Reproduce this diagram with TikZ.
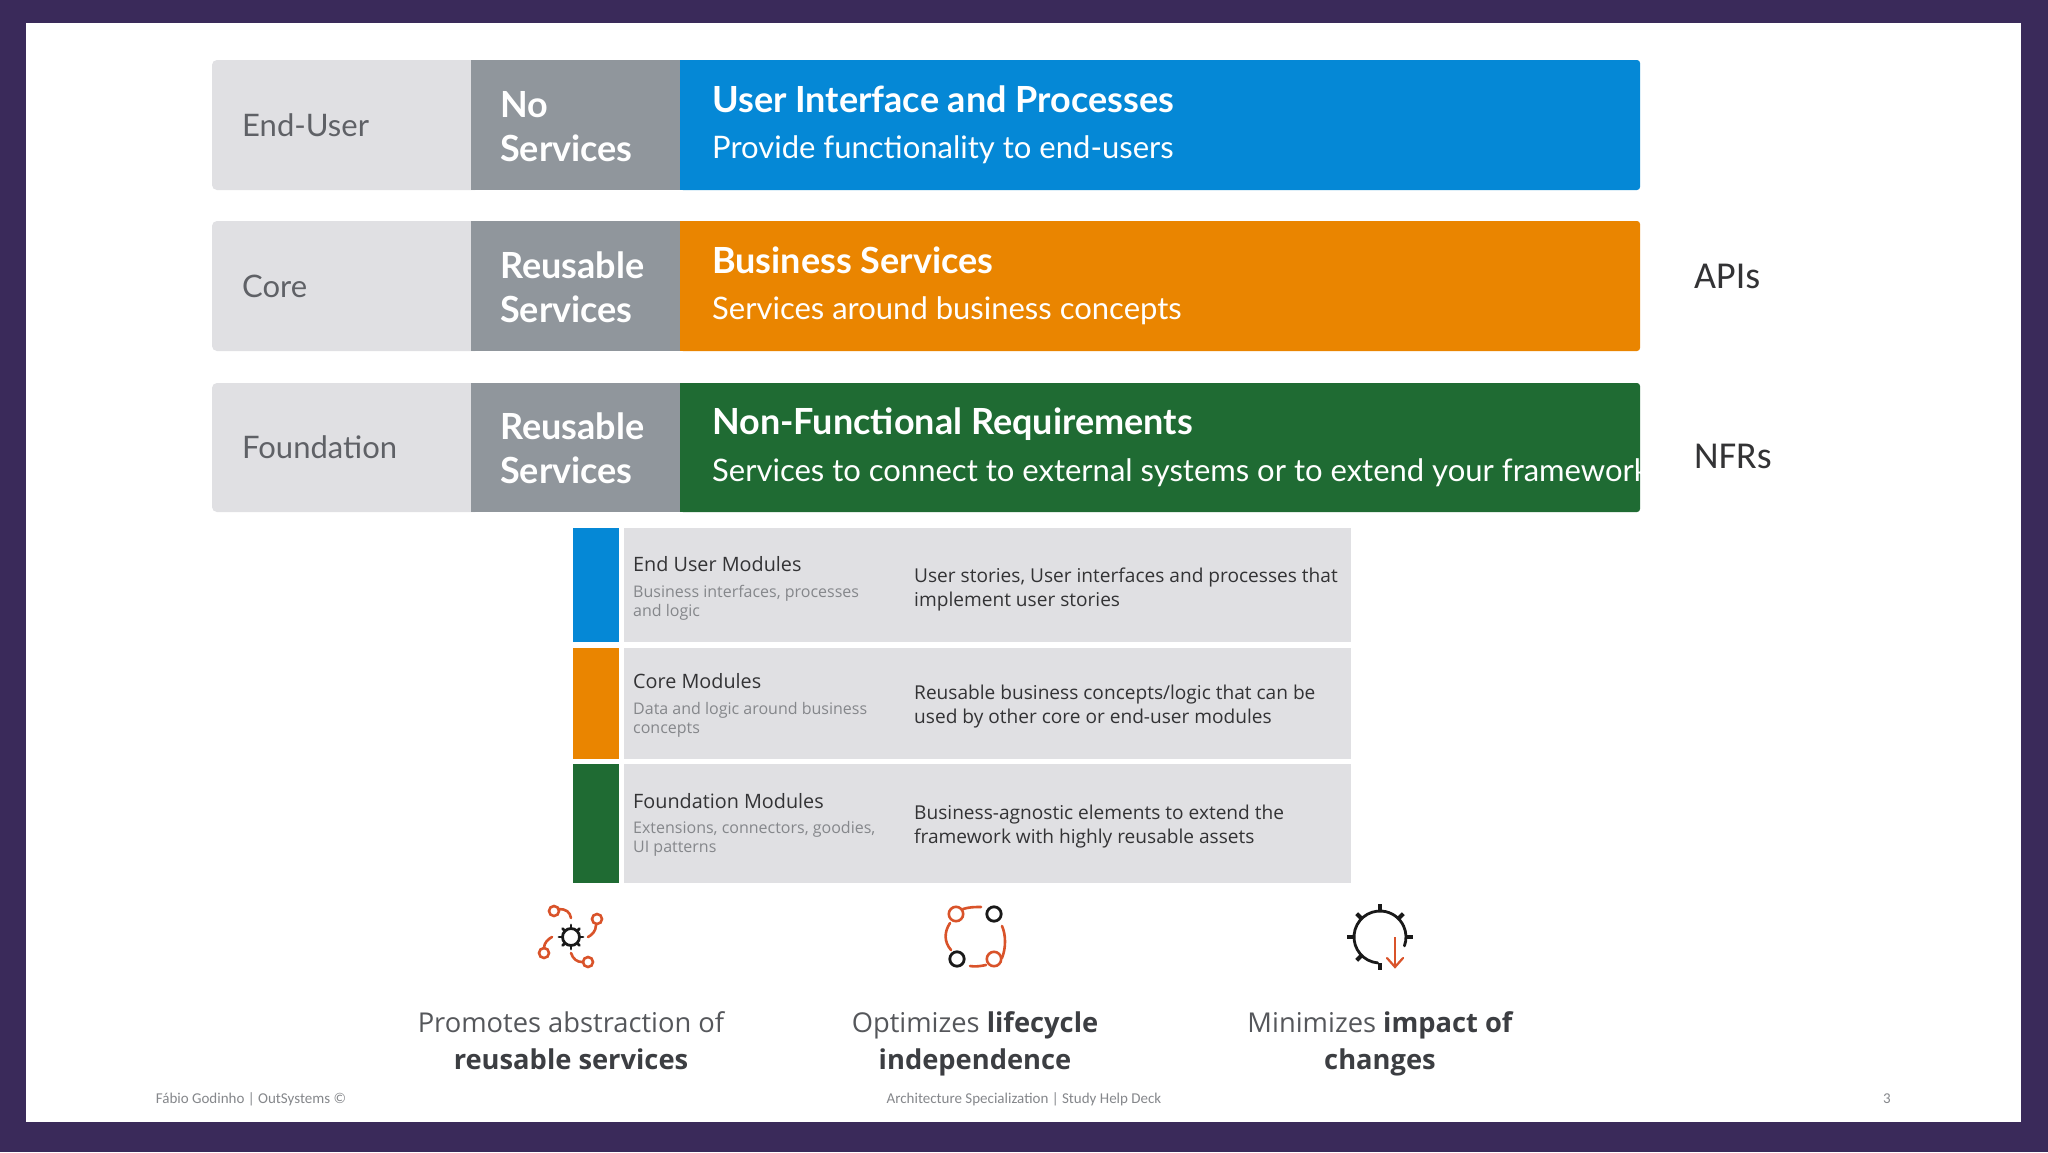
\documentclass[tikz,border=0pt]{standalone}
\usepackage{fontspec}
\setmainfont{Open Sans}
\newfontfamily\lat{Lato}
\newfontfamily\carl{Carlito}
\newcommand{\myfs}[1]{\fontsize{#1}{#1}\selectfont}
\definecolor{frameC}{HTML}{3A2A5A}
\definecolor{lab}{HTML}{E0E0E3}
\definecolor{mid}{HTML}{90969C}
\definecolor{blueC}{HTML}{0588D6}
\definecolor{orC}{HTML}{EA8500}
\definecolor{grC}{HTML}{1F6B33}
\definecolor{txG}{HTML}{5F6166}
\definecolor{txD}{HTML}{333335}
\definecolor{txL}{HTML}{85878B}
\definecolor{txH}{HTML}{55575B}
\definecolor{txB}{HTML}{3C3E42}
\definecolor{redC}{HTML}{D9532A}
\tikzset{x=1pt,y=-1pt,
 txt/.style={inner sep=0pt,anchor=base west},
 rowlab/.style={txt,txG,font=\lat\myfs{31}},
 midt/.style={txt,white,font=\lat\myfs{36}\bfseries},
 headt/.style={txt,white,font=\lat\myfs{36}\bfseries},
 subt/.style={txt,white,font=\lat\myfs{31}},
 mhead/.style={txt,txD,font=\myfs{19.8}},
 msub/.style={txt,txL,font=\myfs{16}},
 mdesc/.style={txt,txD,font=\myfs{19.1}},
 capt/.style={inner sep=0pt,anchor=base,txH,font=\myfs{27.3}},
 capb/.style={inner sep=0pt,anchor=base,txB,font=\myfs{27.3}\bfseries},
 foott/.style={inner sep=0pt,anchor=base,txL,font=\carl\myfs{15}},
 sidet/.style={txt,txD,font=\carl\myfs{38}},
 ico/.style={redC,line width=2.6pt,line cap=round},
 icok/.style={black!90,line width=2.8pt,line cap=round}}
\begin{document}
\begin{tikzpicture}
\useasboundingbox (0,0) rectangle (2048,1152);
\fill[frameC] (0,0) rectangle (2048,1152);
\fill[white] (26,23) rectangle (2021,1122);
% top rows
\foreach \yt/\yb/\c in {60/190/blueC,221/351/orC,383/512/grC}{
  \fill[lab,rounded corners=5pt] (212,\yt) rectangle (480,\yb);
  \fill[mid] (471,\yt) rectangle (680,\yb);
  \fill[\c,rounded corners=3pt] (680,\yt) rectangle (1640,\yb);
  \fill[\c] (680,\yt) rectangle (690,\yb);
}
\node[rowlab] (r1) at (242,136) {End-User};
\node[rowlab] (r2) at (242,297) {Core};
\node[rowlab] (r3) at (242,458) {Foundation};
\node[midt] (m1a) at (500,117) {No};
\node[midt] (m1b) at (500,161) {Services};
\node[midt] (m2a) at (500,278) {Reusable};
\node[midt] (m2b) at (500,322) {Services};
\node[midt] (m3a) at (500,439) {Reusable};
\node[midt] (m3b) at (500,483) {Services};
\node[headt] (h1) at (712,112) {User Interface and Processes};
\node[subt] (s1) at (712,158) {Provide functionality to end-users};
\node[headt] (h2) at (712,273) {Business Services};
\node[subt] (s2) at (712,319) {Services around business concepts};
\node[headt] (h3) at (712,434) {Non-Functional Requirements};
\node[subt] (s3) at (712,481) {Services to connect to external systems or to extend your framework};
\node[sidet] (api) at (1694,288) {APIs};
\node[sidet] (nfr) at (1694,468) {NFRs};
% modules
\foreach \yt/\yb/\c in {528/642/blueC,648/759/orC,764/883/grC}{
  \fill[\c] (573,\yt) rectangle (619,\yb);
  \fill[lab] (624,\yt) rectangle (1351,\yb);
}
\node[mhead] (a1) at (633,571) {End User Modules};
\node[msub] (a2) at (633,597) {Business interfaces, processes};
\node[msub] (a3) at (633,616) {and logic};
\node[mdesc] (a4) at (914,582) {User stories, User interfaces and processes that};
\node[mdesc] (a5) at (914,606) {implement user stories};
\node[mhead] (b1) at (633,688) {Core Modules};
\node[msub] (b2) at (633,714) {Data and logic around business};
\node[msub] (b3) at (633,733) {concepts};
\node[mdesc] (b4) at (914,699) {Reusable business concepts/logic that can be};
\node[mdesc] (b5) at (914,723) {used by other core or end-user modules};
\node[mhead] (c1) at (633,808) {Foundation Modules};
\node[msub] (c2) at (633,833) {Extensions, connectors, goodies,};
\node[msub] (c3) at (633,852) {UI patterns};
\node[mdesc] (c4) at (914,819) {Business-agnostic elements to extend the};
\node[mdesc] (c5) at (914,843) {framework with highly reusable assets};
% captions
\node[capt] (d1) at (571,1032) {Promotes abstraction of};
\node[capb] (d2) at (571,1069) {reusable services};
\node[capt] (e1) at (975,1032) {Optimizes \textbf{\textcolor{txB}{lifecycle}}};
\node[capb] (e2) at (975,1069) {independence};
\node[capt] (f1) at (1380,1032) {Minimizes \textbf{\textcolor{txB}{impact of}}};
\node[capb] (f2) at (1380,1069) {changes};
\node[foott] (g1) at (251,1103) {Fábio Godinho | OutSystems ©};
\node[foott] (g2) at (1024,1103) {Architecture Specialization | Study Help Deck};
\node[foott] (g3) at (1887,1103) {3};
% icon 1
\draw[icok] (571,937) circle (8.5pt);
\foreach \a in {0,45,...,315} \draw[icok] (571,937) ++(\a:8.5pt) -- ++(\a:3.5pt);
\draw[ico] (554,911) circle (5pt);
\draw[ico] (559,909) .. controls (566,909) and (570,912) .. (571,918);
\draw[ico] (597,919) circle (5pt);
\draw[ico] (596,925) .. controls (596,931) and (592,935) .. (588,937);
\draw[ico] (544,953) circle (5pt);
\draw[ico] (552,937) .. controls (548,939) and (544,943) .. (544,948);
\draw[ico] (588,962) circle (5pt);
\draw[ico] (571,953) .. controls (573,959) and (577,962) .. (582,962);
% icon 2
\draw[ico] (956,914) circle (7.2pt);
\draw[icok] (994,914) circle (7.2pt);
\draw[icok] (957,959) circle (7.2pt);
\draw[ico] (994,959) circle (7.2pt);
\draw[ico] (963,909) .. controls (969,907) and (975,907) .. (981,907);
\draw[ico] (1002,926) .. controls (1006,935) and (1006,948) .. (1002,958);
\draw[ico] (950,923) .. controls (944,932) and (944,942) .. (951,950);
\draw[ico] (970,966) .. controls (975,967) and (981,966) .. (986,965);
% icon 3
\draw[icok] (1380,937) ++(265:26pt) arc (265:-20:26pt);
\foreach \a in {0,45,90,135,180,225,270}
  \draw[black!90,line width=4pt] (1380,937) ++(\a:26pt) -- ++(\a:7pt);
\draw[redC,line width=2pt] (1395,937) -- (1395,966);
\draw[redC,line width=2.2pt,line cap=round] (1387,958) -- (1395,967) -- (1403,958);
\end{tikzpicture}
\end{document}
